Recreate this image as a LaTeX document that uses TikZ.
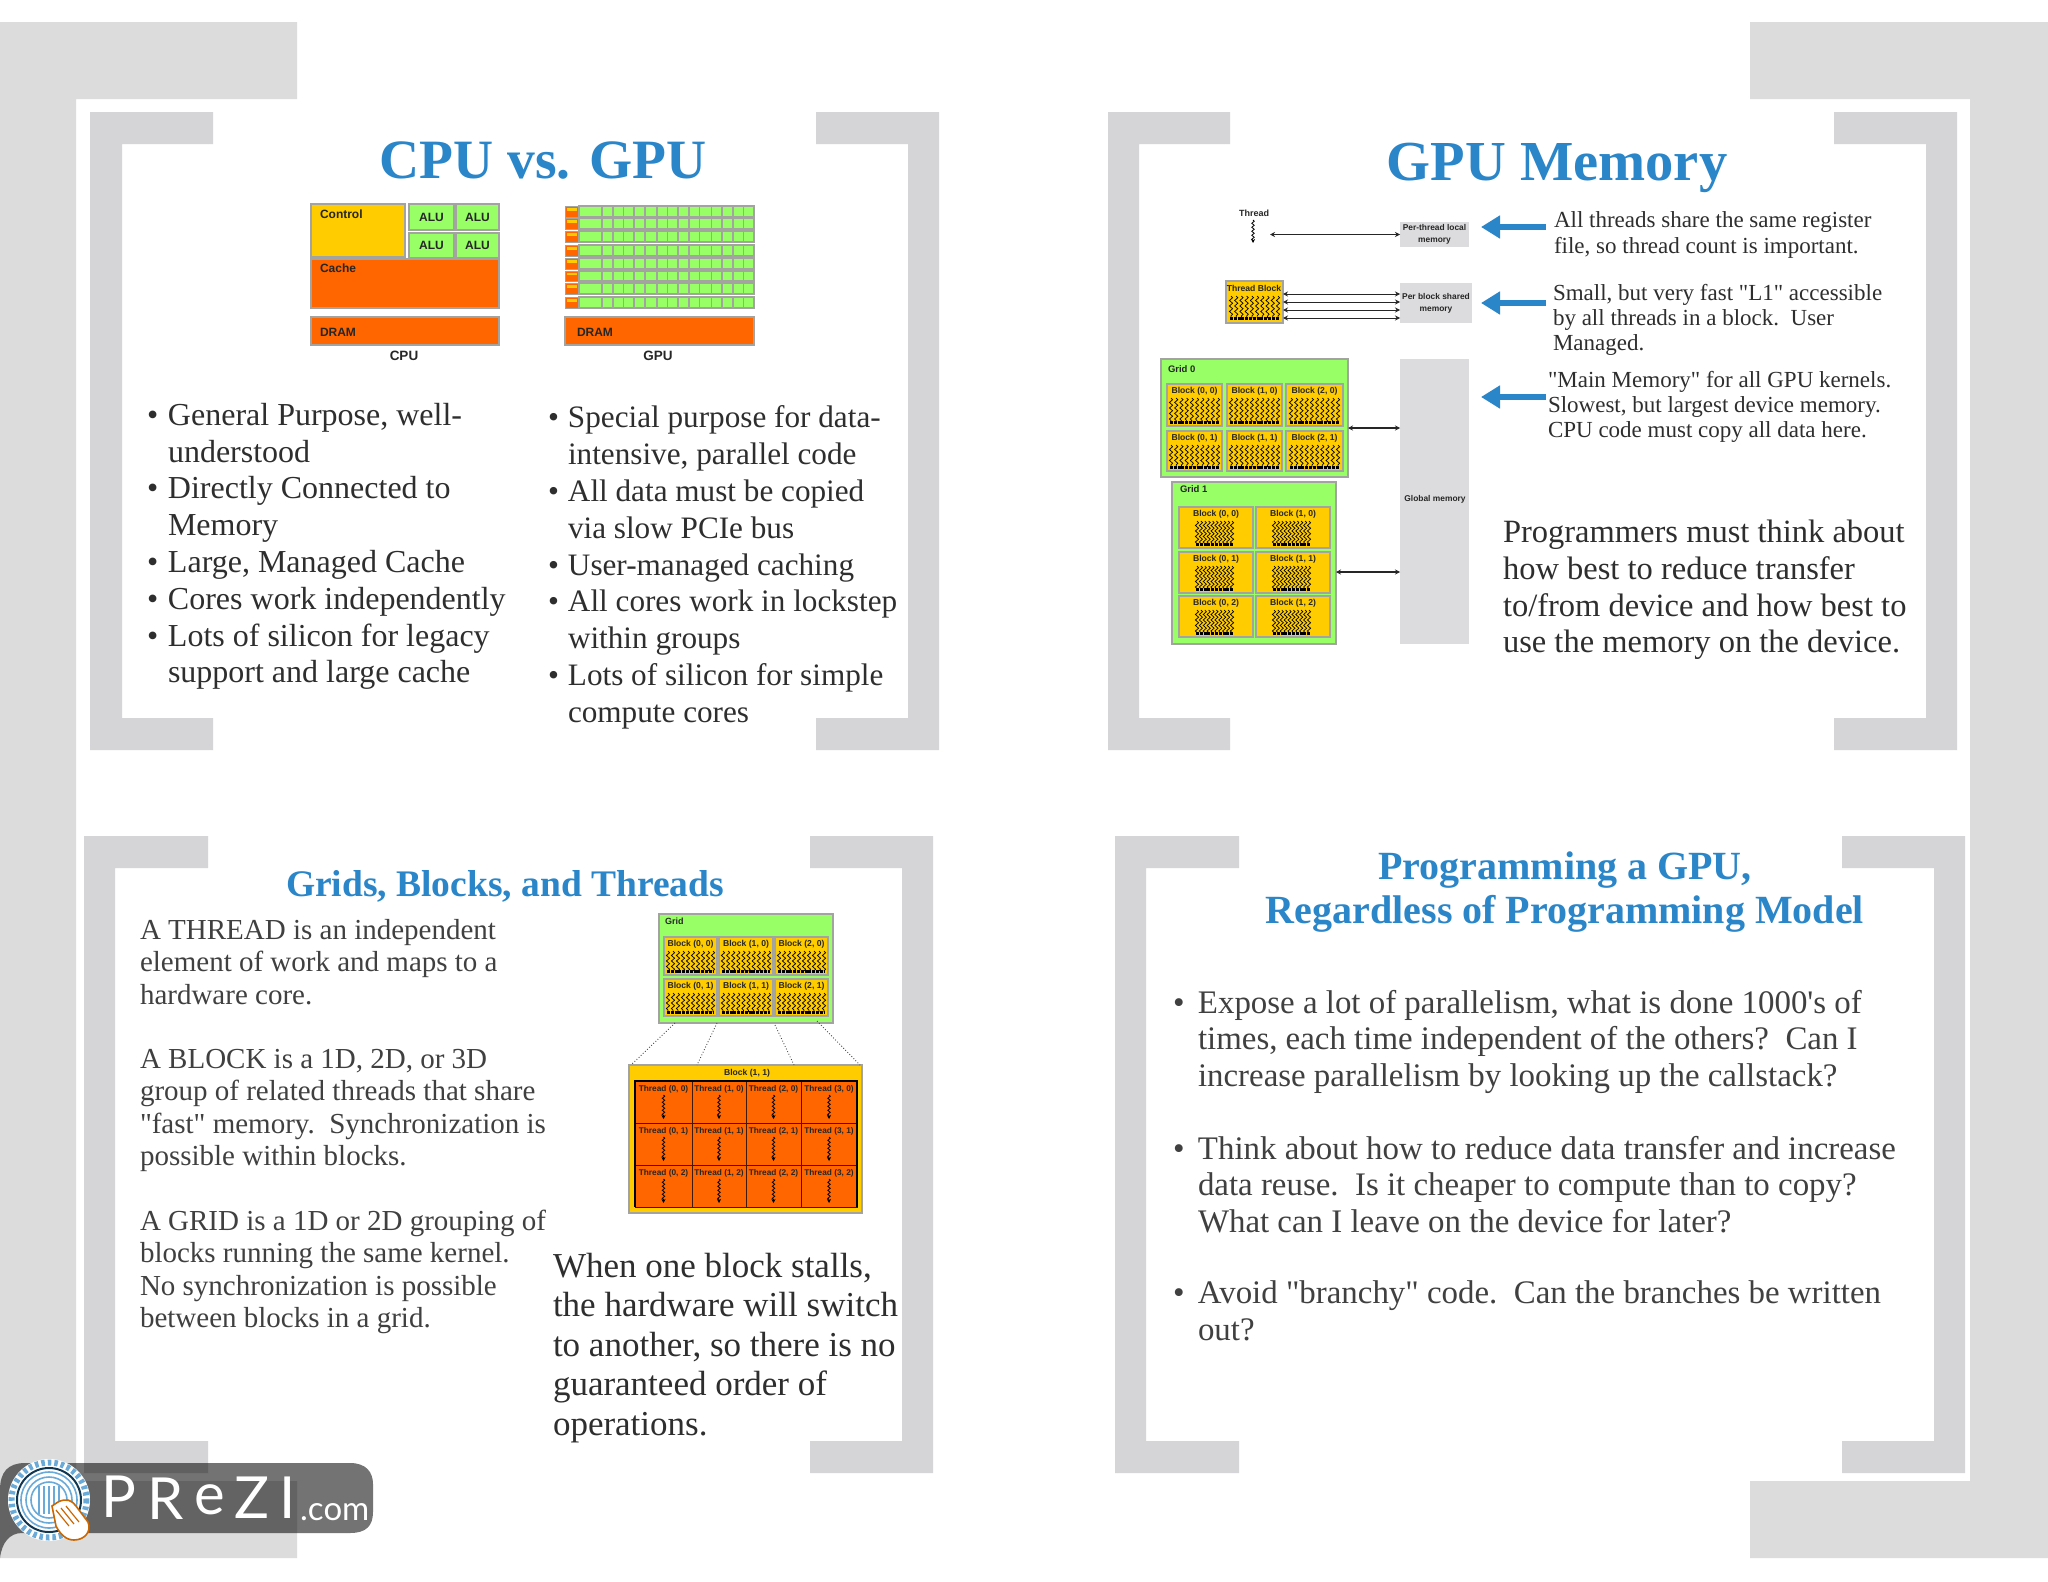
\documentclass[tikz,border=0pt]{standalone}
\usepackage{fontspec}
\setmainfont{Liberation Serif}
\newfontfamily\plainserif{Liberation Serif}
\newfontfamily\dgfont{Liberation Sans}
\newfontfamily\logofont{Lato}
\usetikzlibrary{arrows.meta,decorations.pathmorphing,calc}
\definecolor{brk}{HTML}{D5D5D7}
\definecolor{brkout}{HTML}{DCDCDC}
\definecolor{ttl}{HTML}{2A86C8}
\definecolor{bodyc}{HTML}{2E2E2E}
\definecolor{bodyd}{HTML}{404040}
\definecolor{gr}{HTML}{99FF66}
\definecolor{og}{HTML}{FF6600}
\definecolor{yl}{HTML}{FFCC00}
\definecolor{bd}{HTML}{A3A3A0}
\definecolor{memc}{HTML}{DCDCDE}
\newcommand\fsz[2]{\fontsize{#1}{#2}\selectfont}
\newcommand\bl{\makebox[21pt][l]{•}}
\newcommand\bli{\hspace*{21pt}}
\newcommand\blc{\makebox[20pt][l]{•}}
\newcommand\blci{\hspace*{20pt}}
\newcommand\blb{\makebox[25pt][l]{•}}
\newcommand\blbi{\hspace*{25pt}}
\newcommand\qq{{\plainserif\symbol{34}}}
\newcommand\sq{{\plainserif\symbol{39}}}
\newcommand\bx[6][]{%
  \pgfmathsetmacro\bxcx{(#3+#5)/2}\pgfmathsetmacro\bxcy{(#4+#6)/2}%
  \pgfmathsetmacro\bxw{#5-#3}\pgfmathsetmacro\bxh{#6-#4}%
  \node[boxn,minimum width=\bxw pt,minimum height=\bxh pt,#1] (#2) at (\bxcx,\bxcy) {};}
\newcommand\threads[5]{%
  \foreach \ti in {1,...,#5}{%
    \pgfmathsetmacro\tx{#1+(#2-#1)*(\ti-1)/(#5-1)}%
    \draw[wig] (\tx,#3) -- (\tx,#4);
  }%
  \draw[black,line width=3pt,dash pattern=on 3pt off .8pt] (#1-1,#4) -- (#2+1,#4);}
\newcommand\block[8]{%
  \bx[fill=yl,draw=bd]{#1}{#2}{#3}{#4}{#5}%
  \node[dgl,font=\dgfont\bfseries\fsz{8.6}{11}] (#1t) at ($(#1.north)+(0,7)$) {#6};
  \threads{#7}{#8}{#3+14}{#5-4}{10}}
\newcommand\lbrk[7]{\fill[#7] (#1,#3) -- (#2,#3) -- (#2,#3+#6) -- (#1+#5,#3+#6) -- (#1+#5,#4-#6) -- (#2,#4-#6) -- (#2,#4) -- (#1,#4) -- cycle;}
\newcommand\rbrk[7]{\fill[#7] (#1,#3) -- (#2,#3) -- (#2,#3+#6) -- (#1-#5,#3+#6) -- (#1-#5,#4-#6) -- (#2,#4-#6) -- (#2,#4) -- (#1,#4) -- cycle;}
\tikzset{
  x=1pt,y=-1pt,
  boxn/.style={rectangle,inner sep=0pt,outer sep=0pt,line width=1.2pt},
  dgl/.style={inner sep=0pt,outer sep=0pt,text=black!85},
  dglab/.style={dgl,font=\dgfont\bfseries\fsz{12}{14}},
  smalllab/.style={dgl,font=\dgfont\bfseries\fsz{8.4}{12},align=center},
  title/.style={inner sep=0pt,text=ttl,font=\bfseries\fsz{#1}{44},align=center},
  bodyt/.style={inner sep=0pt,outer sep=0pt,anchor=north west,align=left,text=bodyc},
  wig/.style={black,line width=.7pt,decorate,decoration={snake,amplitude=1.6pt,segment length=5.5pt}},
  wigt/.style={black,line width=.8pt,decorate,decoration={snake,amplitude=1.2pt,segment length=4pt,post length=2pt},-{Stealth[length=4pt,width=4pt]}},
  dbl/.style={{Stealth[length=5pt,width=5pt]}-{Stealth[length=5pt,width=5pt]},line width=1pt,black!85},
  blue/.style={ttl,line width=5.5pt,-{Triangle[length=19pt,width=22pt]}},
  dots/.style={black!70,line width=.9pt,dotted},
}
\begin{document}
\begin{tikzpicture}
\useasboundingbox (0,0) rectangle (2048,1582);
\fill[white] (0,0) rectangle (2048,1582);
% outer brackets
\lbrk{0}{297}{22}{1558}{76}{77}{brkout}
\rbrk{2048}{1750}{22}{1558}{78}{77}{brkout}
% panel brackets
\lbrk{90}{213}{112}{750}{32}{32}{brk}
\rbrk{939}{816}{112}{750}{31}{32}{brk}
\lbrk{1108}{1230}{112}{750}{31}{32}{brk}
\rbrk{1957}{1834}{112}{750}{31}{32}{brk}
\lbrk{84}{208}{836}{1473}{31}{32}{brk}
\rbrk{933}{810}{836}{1473}{31}{32}{brk}
\lbrk{1115}{1239}{836}{1473}{31}{32}{brk}
\rbrk{1965}{1842}{836}{1473}{31}{32}{brk}

% ---- Panel 1
\node[title=55.5] (t1) at (543,161) {CPU vs. GPU};
\bx[fill=yl,draw=bd]{ctrl}{311}{204}{405}{257}
\bx[fill=gr,draw=bd]{alua}{409}{204}{454}{230}
\bx[fill=gr,draw=bd]{alub}{456}{204}{499}{230}
\bx[fill=gr,draw=bd]{aluc}{409}{233}{454}{258}
\bx[fill=gr,draw=bd]{alud}{456}{233}{499}{258}
\bx[fill=og,draw=bd]{cache}{311}{259}{499}{308}
\bx[fill=og,draw=bd]{dramc}{311}{317}{499}{345}
\node[dglab,anchor=west] (lctrl) at (320,214) {Control};
\node[dglab] (la) at (alua) {ALU};
\node[dglab] (lb) at (alub) {ALU};
\node[dglab] (lc) at (aluc) {ALU};
\node[dglab] (ld) at (alud) {ALU};
\node[dglab,anchor=west] (lcache) at (320,268) {Cache};
\node[dglab,anchor=west] (ldramc) at (320,332) {DRAM};
\node[dgl,font=\dgfont\bfseries\fsz{13.5}{15}] (lcpu) at (404,356) {CPU};
\foreach \n/\ya/\yb in {1/206/217,2/218/229,3/231/242,4/245/256,5/258/269,6/271/281,7/283/294,8/297/308}{
  \pgfmathsetmacro\ym{\ya+(\yb-\ya)*.42}
  \bx[fill=og,draw=bd,line width=.8pt]{gl\n}{565}{\ya}{579}{\yb}
  \fill[yl] (567,\ya+1.5) rectangle (577,\ym);
  \bx[fill=gr,draw=bd]{gr\n}{579}{\ya}{754}{\yb}
  \foreach \cx in {602,613,623.5,634,645,657,667.5,678,689,699.5,711.5,722,733,743.5}{
    \draw[bd,line width=1.2pt] (\cx,\ya) -- (\cx,\yb);
  }
}
\bx[fill=og,draw=bd]{dramg}{565}{317}{754}{345}
\node[dglab,anchor=west] (ldramg) at (577,332) {DRAM};
\node[dgl,font=\dgfont\bfseries\fsz{13.5}{15}] (lgpu) at (658,356) {GPU};
\node[bodyt,font=\fsz{32}{36.8}] (b1a) at (147,403) {\bl General Purpose, well-\\\bli understood\\\bl Directly Connected to\\\bli Memory\\\bl Large, Managed Cache\\\bl Cores work independently\\\bl Lots of silicon for legacy\\\bli support and large cache};
\node[bodyt,font=\fsz{31.2}{36.8}] (b1b) at (548,406) {\blc Special purpose for data-\\\blci intensive, parallel code\\\blc All data must be copied\\\blci via slow PCIe bus\\\blc User-managed caching\\\blc All cores work in lockstep\\\blci within groups\\\blc Lots of silicon for simple\\\blci compute cores};

% ---- Panel 2
\node[title=56.5] (t2) at (1557,168) {GPU Memory};
\node[dgl,font=\dgfont\bfseries\fsz{9}{11}] (lthr) at (1254,213) {Thread};
\coordinate (w1a) at (1253,220); \coordinate (w1b) at (1253,243);
\draw[wigt] (w1a) -- (w1b);
\coordinate (thr) at (1270,234.5);
\bx[fill=memc]{mem1}{1400}{222}{1469}{247}
\node[smalllab] (lmem1) at (mem1) {Per-thread local\\memory};
\draw[dbl] (thr) -- (mem1.west);
\bx[fill=yl,draw=bd]{tblk}{1226}{281}{1283}{323}
\node[dgl,font=\dgfont\bfseries\fsz{8.6}{11}] (ltb) at (1254,288) {Thread Block};
\threads{1231}{1278}{296}{318}{10}
\bx[fill=memc]{mem2}{1400}{283}{1472}{323}
\node[smalllab] (lmem2) at (mem2) {Per block shared\\memory};
\draw[dbl] ($(tblk.east)+(0,-8)$) -- ($(mem2.west)+(0,-9)$);
\draw[dbl] ($(tblk.east)+(0,0)$) -- ($(mem2.west)+(0,-1)$);
\draw[dbl] ($(tblk.east)+(0,8)$) -- ($(mem2.west)+(0,7)$);
\draw[dbl] ($(tblk.east)+(0,16)$) -- ($(mem2.west)+(0,15)$);
\bx[fill=gr,draw=bd]{g0}{1161}{359}{1348}{477}
\node[dglab,font=\dgfont\bfseries\fsz{9.5}{12},anchor=west] (lg0) at (1168,369) {Grid 0};
\block{b00}{1167}{384}{1222}{426}{Block (0, 0)}{1171}{1218}
\block{b10}{1227}{384}{1282}{426}{Block (1, 0)}{1231}{1278}
\block{b20}{1286}{384}{1343}{426}{Block (2, 0)}{1291}{1338}
\block{b01}{1167}{431}{1222}{471}{Block (0, 1)}{1171}{1218}
\block{b11}{1227}{431}{1282}{471}{Block (1, 1)}{1231}{1278}
\block{b21}{1286}{431}{1343}{471}{Block (2, 1)}{1291}{1338}
\bx[fill=memc]{gmem}{1400}{359}{1469}{644}
\node[smalllab] (lgm) at (1435,499) {Global memory};
\coordinate (g0e) at (1348,428); \coordinate (gm0) at (1400,428);
\draw[dbl,line width=1.3pt] (g0e) -- (gm0);
\bx[fill=gr,draw=bd]{g1}{1172}{482}{1336}{644}
\node[dglab,font=\dgfont\bfseries\fsz{9.5}{12},anchor=west] (lg1) at (1180,489) {Grid 1};
\block{c00}{1179}{507}{1253}{548}{Block (0, 0)}{1197}{1232}
\block{c10}{1256}{507}{1330}{548}{Block (1, 0)}{1274}{1309}
\block{c01}{1179}{552}{1253}{593}{Block (0, 1)}{1197}{1232}
\block{c11}{1256}{552}{1330}{593}{Block (1, 1)}{1274}{1309}
\block{c02}{1179}{596}{1253}{637}{Block (0, 2)}{1197}{1232}
\block{c12}{1256}{596}{1330}{637}{Block (1, 2)}{1274}{1309}
\coordinate (g1e) at (1336,572); \coordinate (gm1) at (1400,572);
\draw[dbl,line width=1.3pt] (g1e) -- (gm1);
\foreach \an/\ay in {a/227,b/303,c/397}{
  \coordinate (tail\an) at (1546,\ay); \coordinate (tip\an) at (1481,\ay);
  \draw[blue] (tail\an) -- (tip\an);
}
\node[bodyt,font=\fsz{23}{25.2}] (n1) at (1554,212) {All threads share the same register\\file, so thread count is important.};
\node[bodyt,font=\fsz{23}{25.2}] (n2) at (1553,284) {Small, but very fast \qq L1\qq{} accessible\\by all threads in a block.\ \ User\\Managed.};
\node[bodyt,font=\fsz{23}{25.2}] (n3) at (1548,371) {\qq Main Memory\qq{} for all GPU kernels.\\Slowest, but largest device memory.\\CPU code must copy all data here.};
\node[bodyt,font=\fsz{32.5}{36.8}] (n4) at (1503,520) {Programmers must think about\\how best to reduce transfer\\to/from device and how best to\\use the memory on the device.};

% ---- Panel 3
\node[title=37.5] (t3) at (505,886) {Grids, Blocks, and Threads};
\node[bodyt,text=bodyd,font=\fsz{29}{32.5}] (p3a) at (140,919) {A THREAD is an independent\\element of work and maps to a\\hardware core.};
\node[bodyt,text=bodyd,font=\fsz{29}{32.5}] (p3b) at (140,1049) {A BLOCK is a 1D, 2D, or 3D\\group of related threads that share\\\qq fast\qq{} memory.\ \ Synchronization is\\possible within blocks.};
\node[bodyt,text=bodyd,font=\fsz{29}{32.5}] (p3c) at (140,1210) {A GRID is a 1D or 2D grouping of\\blocks running the same kernel.\\No synchronization is possible\\between blocks in a grid.};
\node[bodyt,font=\fsz{35}{39.5}] (p3d) at (553,1253) {When one block stalls,\\the hardware will switch\\to another, so there is no\\guaranteed order of\\operations.};
\bx[fill=gr,draw=bd]{gg}{659}{914}{833}{1023}
\node[dglab,font=\dgfont\bfseries\fsz{9}{11},anchor=west] (lgg) at (665,921) {Grid};
\block{d00}{664}{937}{717}{975}{Block (0, 0)}{668}{713}
\block{d10}{719}{937}{773}{975}{Block (1, 0)}{723}{769}
\block{d20}{775}{937}{828}{975}{Block (2, 0)}{779}{824}
\block{d01}{664}{979}{717}{1016}{Block (0, 1)}{668}{713}
\block{d11}{719}{979}{773}{1016}{Block (1, 1)}{723}{769}
\block{d21}{775}{979}{828}{1016}{Block (2, 1)}{779}{824}
\bx[fill=yl,draw=bd]{big}{629}{1065}{862}{1213}
\node[dgl,font=\dgfont\bfseries\fsz{8.6}{11}] (lbig) at (747,1073) {Block (1, 1)};
\foreach \cc/\xa/\xb in {0/635/692,1/692/746,2/746/801,3/801/857}{
  \foreach \rr/\ya/\yb in {0/1081/1123,1/1123/1165,2/1165/1207}{
    \bx[fill=og,draw=black!75!og,line width=.8pt]{th\cc\rr}{\xa}{\ya}{\xb}{\yb}
    \node[dgl,font=\dgfont\bfseries\fsz{8.3}{11}] (lth\cc\rr) at ($(th\cc\rr.north)+(0,8.5)$) {Thread (\cc, \rr)};
    \coordinate (wa\cc\rr) at ($(th\cc\rr.north)+(0,14)$);
    \coordinate (wb\cc\rr) at ($(th\cc\rr.north)+(0,38)$);
    \draw[wigt] (wa\cc\rr) -- (wb\cc\rr);
  }
}
\draw[black,line width=1.2pt] (635,1207) -- (635,1081) -- (857,1081) -- (857,1207);
\coordinate (da) at (675,1023); \coordinate (db) at (717,1023); \coordinate (dc) at (775,1025); \coordinate (dd) at (817,1021);
\coordinate (ea) at (631,1065); \coordinate (eb) at (697,1065); \coordinate (ec) at (794,1065); \coordinate (ed) at (860,1065);
\draw[dots] (da) -- (ea); \draw[dots] (db) -- (eb); \draw[dots] (dc) -- (ec); \draw[dots] (dd) -- (ed);

% ---- Panel 4
\node[title=40] (t4) at (1565,892) {Programming a GPU,\\Regardless of Programming Model};
\node[bodyt,text=bodyd,font=\fsz{32.9}{36.8}] (p4a) at (1173,990) {\blb Expose a lot of parallelism, what is done 1000\sq s of\\\blbi times, each time independent of the others?\ \ Can I\\\blbi increase parallelism by looking up the callstack?};
\node[bodyt,text=bodyd,font=\fsz{32.9}{36.8}] (p4b) at (1173,1136) {\blb Think about how to reduce data transfer and increase\\\blbi data reuse.\ \ Is it cheaper to compute than to copy?\\\blbi What can I leave on the device for later?};
\node[bodyt,text=bodyd,font=\fsz{32.9}{36.8}] (p4c) at (1173,1281) {\blb Avoid \qq branchy\qq{} code.\ \ Can the branches be written\\\blbi out?};

% ---- Logo
\fill[black,opacity=.55] (0,1558) -- (0,1490) .. controls (0,1472) and (8,1463) .. (25,1463) -- (350,1463) .. controls (366,1463) and (373,1472) .. (373,1484) -- (373,1512) .. controls (373,1526) and (366,1533) .. (350,1533) -- (22,1533) .. controls (10,1533) and (2,1542) .. (0,1558) -- cycle;
\fill[white] (49,1500) circle (41);
\draw[ttl!70!white,line width=6pt,dash pattern=on 3.5pt off 3pt] (49,1500) circle (37.5);
\fill[white] (49,1500) circle (33);
\draw[black!60!ttl,line width=2pt] (49,1500) circle (32);
\foreach \rr in {28,23,18}{\draw[ttl!70!white,line width=1.6pt] (49,1500) circle (\rr);}
\foreach \xx in {39,44,49,54,59}{\draw[ttl!70!white,line width=1.6pt] (\xx,1486) -- (\xx,1514);}
\fill[white,draw=orange!80!black,line width=1.6pt] (52,1506) -- (58,1502) .. controls (66,1498) and (72,1500) .. (76,1506) -- (88,1522) .. controls (92,1532) and (84,1540) .. (74,1540) .. controls (66,1540) and (60,1534) .. (56,1526) -- cycle;
\foreach \hh in {0,5,10}{\draw[orange!80!black,line width=1.2pt] (56+\hh,1510-\hh*.4) -- (69+\hh,1526-\hh*.4);}
\foreach \ll/\lx/\ly in {P/119/1497,R/166/1499,e/210/1500,Z/252/1498,I/288/1498}{
  \node[inner sep=0pt,text=white,font=\logofont\fsz{58}{60}] (logo\ll) at (\lx,\ly) {\ll};
}
\node[inner sep=0pt,anchor=base west,text=white,font=\logofont\fsz{33}{36}] (logocom) at (300,1520) {.com};
\end{tikzpicture}
\end{document}
